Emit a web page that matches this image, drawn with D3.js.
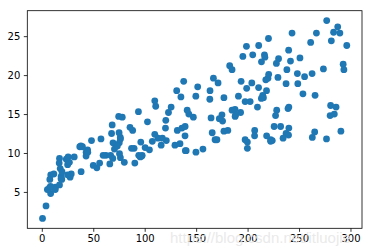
<!DOCTYPE html>
<html lang="en">
<head>
	<meta charset="UTF-8">
	<title>TV vs Sales scatter</title>
	<script src="https://cdn.jsdelivr.net/npm/d3@7"></script>
	<style>
		body { margin: 0; background: #fff; }
		svg { display: block; }
		.tick text { font-family: "DejaVu Sans", sans-serif; font-size: 10px; fill: #000; }
	</style>
</head>
<body>
	<svg id="content" width="372" height="252"></svg>
<script>
// TV spend (x) and sales (y), one value per point
var tv = [230.1,44.5,17.2,151.5,180.8,8.7,57.5,120.2,8.6,199.8,66.1,214.7,23.8,97.5,204.1,195.4,67.8,281.4,69.2,147.3,
	218.4,237.4,13.2,228.3,62.3,262.9,142.9,240.1,248.8,70.6,292.9,112.9,97.2,265.6,95.7,290.7,266.9,74.7,43.1,228,
	202.5,177,293.6,206.9,25.1,175.1,89.7,239.9,227.2,66.9,199.8,100.4,216.4,182.6,262.7,198.9,7.3,136.2,210.8,210.7,
	53.5,261.3,239.3,102.7,131.1,69,31.5,139.3,237.4,216.8,199.1,109.8,26.8,129.4,213.4,16.9,27.5,120.5,5.4,116,
	76.4,239.8,75.3,68.4,213.5,193.2,76.3,110.7,88.3,109.8,134.3,28.6,217.7,250.9,107.4,163.3,197.6,184.9,289.7,135.2,
	222.4,296.4,280.2,187.9,238.2,137.9,25,90.4,13.1,255.4,225.8,241.7,175.7,209.6,78.2,75.1,139.2,76.4,125.7,19.4,
	141.3,18.8,224,123.1,229.5,87.2,7.8,80.2,220.3,59.6,0.7,265.2,8.4,219.8,36.9,48.3,25.6,273.7,43,184.9,
	73.4,193.7,220.5,104.6,96.2,140.3,240.1,243.2,38,44.7,280.7,121,197.6,171.3,187.8,4.1,93.9,149.8,11.7,131.7,
	172.5,85.7,188.4,163.5,117.2,234.5,17.9,206.8,215.4,284.3,50,164.5,19.6,168.4,222.4,276.9,248.4,170.2,276.7,165.6,
	156.6,218.5,56.2,287.6,253.8,205,139.5,191.1,286,18.7,39.5,75.5,17.2,166.8,149.7,38.2,94.2,177,283.6,232.1];
var sales = [22.1,10.4,9.3,18.5,12.9,7.2,11.8,13.2,4.8,10.6,8.6,17.4,9.2,9.7,19,22.4,12.5,24.4,11.3,14.6,
	18,12.5,5.6,15.5,9.7,12,15,15.9,18.9,10.5,21.4,11.9,9.6,17.4,9.5,12.8,25.4,14.7,10.1,21.5,
	16.6,17.1,20.7,12.9,8.5,14.9,10.6,23.2,14.8,9.7,11.4,10.7,22.6,21.2,20.2,23.7,5.5,13.2,23.8,18.4,
	8.1,24.2,15.7,14,18,9.3,9.5,13.4,18.9,22.3,18.3,12.4,8.8,11,17,8.7,6.9,14.2,5.3,11,
	11.8,12.3,11.3,13.6,21.7,15.2,12,16,12.9,16.7,11.2,7.3,19.4,22.2,11.5,16.9,11.7,15.5,25.4,17.2,
	11.7,23.8,14.8,14.7,20.7,19.2,7.2,8.7,5.3,19.8,13.4,21.8,14.1,15.9,14.6,12.6,12.2,9.4,15.9,6.6,
	15.5,7,11.6,15.2,19.7,10.6,6.6,8.8,24.7,9.7,1.6,12.7,5.7,19.6,10.8,11.6,9.5,20.8,9.6,20.7,
	10.9,19.2,20.1,10.4,11.4,10.3,13.2,25.4,10.9,10.1,16.1,11.6,16.6,19,15.6,3.2,15.3,10.1,7.3,12.9,
	14.4,13.3,14.9,18,11.9,11.9,8,12.2,17.1,15,8.4,14.5,7.6,11.7,11.5,27,20.2,11.7,11.8,12.6,
	10.5,12.2,8.7,26.2,17.6,22.6,10.3,17.3,15.9,6.7,10.8,9.9,5.9,19.6,17.3,7.6,9.7,12.8,25.5,13.4];
var xTicks = [0, 50, 100, 150, 200, 250, 300];
var yTicks = [5, 10, 15, 20, 25];

var svg = d3.select("#content");
var plotL = 27.3, plotR = 362, plotT = 10.7, plotB = 228.3;

var x = d3.scaleLinear().domain([-14.1, 311.2]).range([plotL, plotR]);
var y = d3.scaleLinear().domain([0.33, 28.27]).range([plotB, plotT]);

svg.append("g")
	.selectAll("circle")
	.data(tv)
	.enter()
	.append("circle")
	.attr("cx", function(d){ return x(d); })
	.attr("cy", function(d, i){ return y(sales[i]); })
	.attr("r", 3.4)
	.attr("fill", "#1f77b4");

var xAxis = svg.append("g")
	.attr("transform", "translate(0," + plotB + ")")
	.call(d3.axisBottom(x).tickValues(xTicks).tickSize(3.5).tickPadding(3.5).tickFormat(d3.format("d")));
var yAxis = svg.append("g")
	.attr("transform", "translate(" + plotL + ",0)")
	.call(d3.axisLeft(y).tickValues(yTicks).tickSize(3.5).tickPadding(3.5).tickFormat(d3.format("d")));
[xAxis, yAxis].forEach(function(a){
	a.select(".domain").remove();
	a.selectAll(".tick line").attr("stroke", "#000").attr("stroke-width", 0.8);
});

// frame
svg.append("rect")
	.attr("x", plotL).attr("y", plotT)
	.attr("width", plotR - plotL).attr("height", plotB - plotT)
	.attr("fill", "none").attr("stroke", "#000").attr("stroke-width", 0.8);

// watermark
svg.append("text")
	.attr("x", 170).attr("y", 243)
	.attr("font-family", "Arial, 'Liberation Sans', sans-serif")
	.attr("font-size", 15)
	.attr("fill", "#e6e6e6")
	.attr("fill-opacity", 0.85)
	.text("https://blog.csdn.net/itluojie");
</script>
</body>
</html>
